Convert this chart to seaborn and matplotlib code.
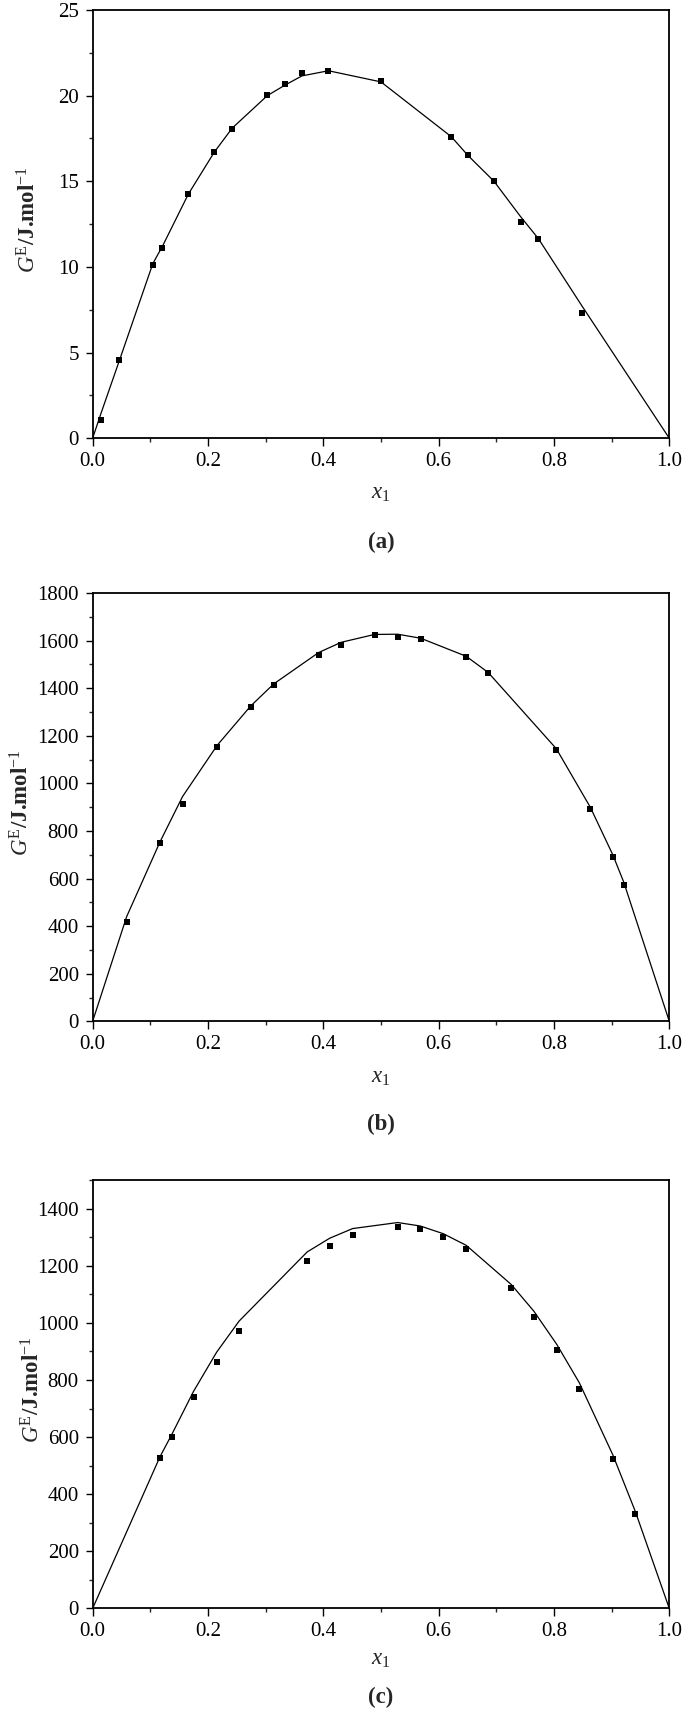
import matplotlib
matplotlib.use("Agg")
import matplotlib.pyplot as plt
from matplotlib.ticker import MultipleLocator, FormatStrFormatter
import seaborn as sns

# panel (a): experimental points and model curve
xa_exp = [0.015, 0.045, 0.1045, 0.121, 0.166, 0.211, 0.242, 0.303, 0.333, 0.363,
          0.409, 0.500, 0.622, 0.651, 0.696, 0.742, 0.773, 0.848]
ya_exp = [1.05, 4.55, 10.12, 11.13, 14.26, 16.70, 18.07, 20.06, 20.67, 21.33,
          21.44, 20.86, 17.59, 16.54, 15.02, 12.63, 11.62, 7.33]
xa_fit = [0.0, 0.015, 0.045, 0.1045, 0.121, 0.166, 0.211, 0.242, 0.303, 0.333, 0.363,
          0.409, 0.500, 0.622, 0.651, 0.696, 0.742, 0.773, 0.848, 1.0]
ya_fit = [0.0, 1.5, 4.4, 10.2, 11.2, 14.25, 16.7, 18.1, 20.0, 20.6, 21.15,
          21.45, 20.8, 17.6, 16.5, 15.0, 12.94, 11.65, 7.75, 0.0]

# panel (b)
xb_exp = [0.059, 0.117, 0.156, 0.216, 0.274, 0.314, 0.392, 0.431, 0.489, 0.529,
          0.569, 0.648, 0.686, 0.804, 0.863, 0.902, 0.921]
yb_exp = [419, 749, 913, 1155, 1322, 1414, 1539, 1580, 1622, 1615,
          1608, 1532, 1464, 1141, 894, 690, 575]
xb_fit = [0.0, 0.059, 0.117, 0.156, 0.216, 0.274, 0.314, 0.392, 0.431, 0.489, 0.529,
          0.569, 0.648, 0.686, 0.804, 0.863, 0.902, 0.921, 1.0]
yb_fit = [0, 440, 755, 945, 1160, 1325, 1418, 1550, 1593, 1626, 1627,
          1610, 1534, 1466, 1146, 900, 700, 585, 0]

# panel (c)
xc_exp = [0.117, 0.137, 0.175, 0.215, 0.254, 0.372, 0.411, 0.451, 0.529, 0.568,
          0.608, 0.648, 0.726, 0.765, 0.805, 0.844, 0.902, 0.941]
yc_exp = [528, 602, 739, 863, 972, 1216, 1269, 1306, 1336, 1328,
          1300, 1258, 1121, 1022, 906, 770, 523, 331]
xc_fit = [0.0, 0.117, 0.137, 0.175, 0.215, 0.254, 0.372, 0.411, 0.451, 0.529, 0.568,
          0.608, 0.648, 0.726, 0.765, 0.805, 0.844, 0.902, 0.941, 1.0]
yc_fit = [0, 532, 608, 760, 897, 1006, 1248, 1296, 1330, 1351, 1339,
          1312, 1271, 1134, 1041, 924, 790, 538, 340, 0]

sns.set_style("ticks")
plt.rcParams["font.family"] = ["Liberation Serif", "DejaVu Serif"]
plt.rcParams["mathtext.fontset"] = "custom"
plt.rcParams["mathtext.rm"] = "Liberation Serif"
plt.rcParams["mathtext.it"] = "Liberation Serif:italic"
plt.rcParams["mathtext.bf"] = "Liberation Serif:bold"

fig = plt.figure(figsize=(6.85, 17.12), dpi=100)

panels = [
    # data, axes rect, ylim top, major, minor, ylabel x, xlabel y, tag y, tag
    (xa_exp, ya_exp, xa_fit, ya_fit, [0.1352, 0.7440, 0.8419, 0.2502], 25, 5, 2.5, -0.0895, -0.130, -0.243, "(a)"),
    (xb_exp, yb_exp, xb_fit, yb_fit, [0.1352, 0.4034, 0.8419, 0.2502], 1800, 200, 100, -0.103, -0.132, -0.240, "(b)"),
    (xc_exp, yc_exp, xc_fit, yc_fit, [0.1352, 0.06046, 0.8419, 0.2503], 1500, 200, 100, -0.084, -0.120, -0.2065, "(c)"),
]

for xe, ye, xf, yf, rect, ytop, ymaj, ymin, ylx, xly, tagy, tag in panels:
    ax = fig.add_axes(rect)
    sns.lineplot(x=xf, y=yf, ax=ax, color="black", linewidth=0.9, estimator=None, sort=False)
    sns.scatterplot(x=xe, y=ye, ax=ax, color="black", marker="s", s=20, edgecolor="black",
                    linewidth=0, zorder=3)
    ax.set_xlim(0, 1.0)
    ax.set_ylim(0, ytop)
    ax.xaxis.set_major_locator(MultipleLocator(0.2))
    ax.xaxis.set_minor_locator(MultipleLocator(0.1))
    ax.xaxis.set_major_formatter(FormatStrFormatter("%.1f"))
    ax.yaxis.set_major_locator(MultipleLocator(ymaj))
    ax.yaxis.set_minor_locator(MultipleLocator(ymin))
    ax.tick_params(which="major", direction="out", length=5.4, width=1.0, labelsize=15, pad=4.5,
                   colors="black")
    ax.tick_params(which="minor", direction="out", length=3.2, width=1.0)
    for sp in ax.spines.values():
        sp.set_linewidth(1.3)
        sp.set_color("black")
    ax.set_xlabel(r"$x_1$", fontsize=16.5)
    ax.xaxis.label.set_va("center")
    ax.xaxis.set_label_coords(0.5, xly)
    ax.set_ylabel(r"$G^{\mathrm{E}}$/J.mol$^{-1}$", fontsize=16.5, fontweight="bold")
    ax.yaxis.set_label_coords(ylx, 0.51)
    ax.text(0.5, tagy, tag, transform=ax.transAxes, ha="center", va="center",
            fontsize=16.5, fontweight="bold")

fig.savefig("out.png", dpi=100)
